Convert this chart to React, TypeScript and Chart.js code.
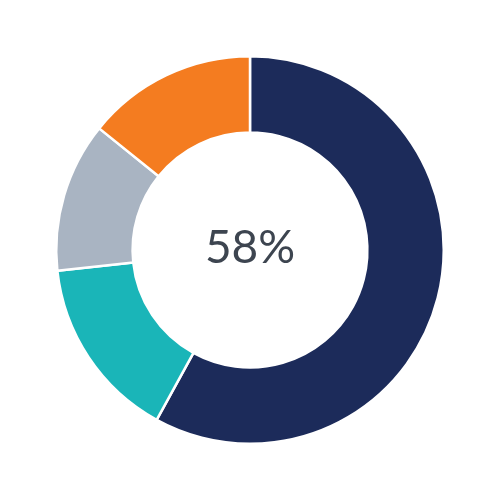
import { useEffect, useRef } from 'react';
import Chart from 'chart.js/auto';

const labels = ['A', 'B', 'C', 'D'];
const values = [58, 15.3, 12.5, 14.2];
const colors = ['#1c2b5a', '#1ab5b8', '#a9b4c2', '#f47c20'];
const centerLabel = '58%';

const centerText = {
  id: 'centerText',
  afterDraw(chart: Chart) {
    const { ctx, chartArea } = chart;
    const x = (chartArea.left + chartArea.right) / 2;
    const y = (chartArea.top + chartArea.bottom) / 2;
    ctx.save();
    ctx.font = '46px Lato, "Open Sans", sans-serif';
    ctx.fillStyle = '#3d4550';
    ctx.textAlign = 'center';
    ctx.textBaseline = 'middle';
    ctx.fillText(centerLabel, x, y - 2);
    ctx.restore();
  },
};

const App: React.FC = () => {
  const chartRef = useRef<HTMLCanvasElement>(null);
  const chartInstance = useRef<Chart | null>(null);

  useEffect(() => {
    document.body.style.margin = '0';
    if (!chartRef.current) return;
    if (chartInstance.current) chartInstance.current.destroy();

    chartInstance.current = new Chart(chartRef.current, {
      type: 'doughnut',
      data: {
        labels,
        datasets: [
          {
            data: values,
            backgroundColor: colors,
            borderColor: '#ffffff',
            borderWidth: 2.5,
          },
        ],
      },
      options: {
        animation: false,
        responsive: true,
        maintainAspectRatio: false,
        cutout: '60.6%',
        layout: { padding: 55 },
        plugins: {
          legend: { display: false },
          tooltip: { enabled: false },
        },
      },
      plugins: [centerText],
    });

    return () => {
      if (chartInstance.current) {
        chartInstance.current.destroy();
        chartInstance.current = null;
      }
    };
  }, []);

  return (
    <div style={{ width: 500, height: 500, position: 'relative' }}>
      <canvas ref={chartRef}></canvas>
    </div>
  );
};

export default App;
